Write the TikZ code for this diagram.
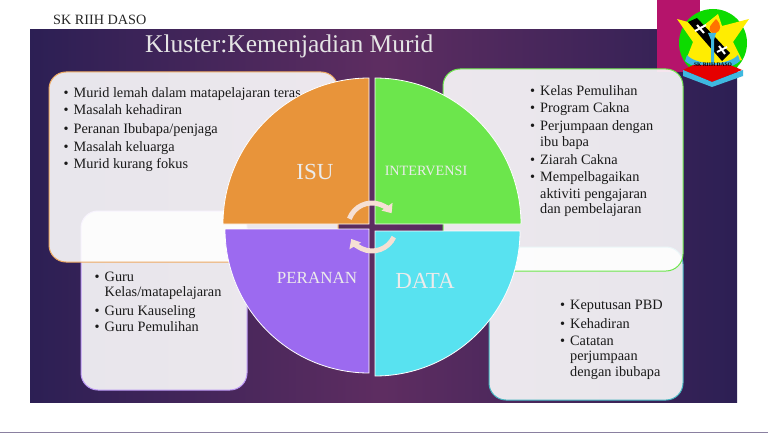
\documentclass[tikz,border=0pt]{standalone}
\usepackage{fontspec}
\setmainfont{Liberation Serif}
\usetikzlibrary{arrows.meta}
\definecolor{slidedark}{HTML}{2C1F54}
\definecolor{slidemid}{HTML}{5E2D61}
\definecolor{isucol}{HTML}{E8943A}
\definecolor{intercol}{HTML}{6CE64C}
\definecolor{perancol}{HTML}{9C6AF0}
\definecolor{datacol}{HTML}{58E2F0}
\definecolor{magentabar}{HTML}{B5146B}
\definecolor{cyclecol}{HTML}{F6E0D4}
\definecolor{footline}{HTML}{8A80A0}
\definecolor{ribboncol}{HTML}{3FB8E0}
\newcommand{\bul}{\llap{•\kern5pt}}
\tikzset{
  listbox/.style={line width=1pt,rounded corners=17pt,fill=white,fill opacity=0.89},
  itemtext/.style={anchor=base west,inner sep=0pt,font=\fontsize{14.3}{14.3}\selectfont,text=black!90},
  quarter/.style={draw=white,line width=0.8pt},
  quartertext/.style={text=white!92!black,inner sep=0pt},
  cyclearrow/.style={draw=cyclecol,line width=5pt,-{Triangle[length=8pt,width=13pt]}}
}
\begin{document}
\begin{tikzpicture}[x=1pt,y=-1pt]
  \useasboundingbox (0,0) rectangle (768,433);
  \fill[white] (0,0) rectangle (768,433);
  \draw[footline,line width=1pt] (0,432.5) -- (768,432.5);
  % slide
  \shade[left color=slidedark,right color=slidedark,middle color=slidemid] (30,30) rectangle (737,402);
  \fill[magentabar] (657,0) rectangle (700,72);
  \node[anchor=base west,inner sep=0pt,font=\fontsize{14.2}{14.2}\selectfont,text=black!85] (school) at (53,25) {SK RIIH DASO};
  \node[anchor=base west,inner sep=0pt,font=\fontsize{25.5}{25.5}\selectfont,text=white!90!black] (title) at (145,53) {Kluster:Kemenjadian Murid};
  % boxes
  \draw[listbox,draw=perancol!70!white] (81,211) rectangle (247,390);
  \draw[listbox,draw=isucol!80!white] (49,72) rectangle (338,262);
  \draw[listbox,draw=datacol!80!black] (489,247) rectangle (683,400);
  \draw[listbox,draw=intercol] (443,69) rectangle (683,271);
  % box texts
  \node[itemtext] (isua) at (73.5,98) {\bul Murid lemah dalam matapelajaran teras};
  \node[itemtext] (isub) at (73.5,115) {\bul Masalah kehadiran};
  \node[itemtext] (isuc) at (73.5,133) {\bul Peranan Ibubapa/penjaga};
  \node[itemtext] (isud) at (73.5,151) {\bul Masalah keluarga};
  \node[itemtext] (isue) at (73.5,168.5) {\bul Murid kurang fokus};
  \node[itemtext] (intera) at (540,95.5) {\bul Kelas Pemulihan};
  \node[itemtext] (interb) at (540,112.5) {\bul Program Cakna};
  \node[itemtext] (interc) at (540,131) {\bul Perjumpaan dengan};
  \node[itemtext] (interd) at (540,146.5) {ibu bapa};
  \node[itemtext] (intere) at (540,164.5) {\bul Ziarah Cakna};
  \node[itemtext] (interf) at (540,181.5) {\bul Mempelbagaikan};
  \node[itemtext] (interg) at (540,198) {aktiviti pengajaran};
  \node[itemtext] (interh) at (540,213.5) {dan pembelajaran};
  \node[itemtext] (perana) at (104.5,281) {\bul Guru};
  \node[itemtext] (peranb) at (104.5,296.5) {Kelas/matapelajaran};
  \node[itemtext] (peranc) at (104.5,315) {\bul Guru Kauseling};
  \node[itemtext] (perand) at (104.5,331.5) {\bul Guru Pemulihan};
  \node[itemtext] (dataa) at (570,309.5) {\bul Keputusan PBD};
  \node[itemtext] (datab) at (570,328) {\bul Kehadiran};
  \node[itemtext] (datac) at (570,345.5) {\bul Catatan};
  \node[itemtext] (datad) at (570,360.5) {perjumpaan};
  \node[itemtext] (datae) at (570,376.5) {dengan ibubapa};
  % quarters
  \fill[quarter,fill=isucol] (369,224) -- (369,78) arc[start angle=90,end angle=180,radius=146pt] -- cycle;
  \fill[quarter,fill=intercol] (375,224) -- (375,78) arc[start angle=90,end angle=0,radius=146pt] -- cycle;
  \fill[quarter,fill=perancol] (369,229) -- (225,229) arc[start angle=180,end angle=270,radius=144pt] -- cycle;
  \fill[quarter,fill=datacol] (375,231) -- (520,231) arc[start angle=0,end angle=-90,radius=145pt] -- cycle;
  \node[quartertext,font=\fontsize{23}{23}\selectfont] (isu) at (315,172) {ISU};
  \node[quartertext,font=\fontsize{14.2}{14.2}\selectfont] (intervensi) at (426,171) {INTERVENSI};
  \node[quartertext,font=\fontsize{17}{17}\selectfont] (peranan) at (317,278) {PERANAN};
  \node[quartertext,font=\fontsize{23}{23}\selectfont] (data) at (425,281) {DATA};
  % cycle arrows
  \draw[cyclearrow] (349.4,218.8) arc[start angle=160,end angle=35,radius=24pt];
  \draw[cyclearrow] (393.8,237.1) arc[start angle=-25,end angle=-150,radius=24pt];
  % logo
  \fill[green!85!black!95!yellow] (713,43) circle (34);
  \fill[yellow!95!orange] (677,19) -- (703,26) -- (718,14) -- (722,26) -- (749,19) -- (733,42) -- (742,60) -- (713,68) -- (686,60) -- (693,42) -- cycle;
  \fill[black] (688,22) -- (697,18) -- (730,53) -- (722,61) -- cycle;
  \draw[white,line width=2pt] (695,31) -- (706,25) (697,25) -- (704,33) (717,52) -- (727,47) (719,46) -- (725,54);
  \fill[orange!90!red] (712,33) .. controls (706,28) and (712,24) .. (716,19) .. controls (722,25) and (721,31) .. (716,33) -- cycle;
  \fill[ribboncol] (708,33) -- (716,33) -- (714,40) -- (714,68) -- (711,68) -- (711,40) -- cycle;
  \fill[ribboncol] (687,55) .. controls (697,66) and (728,66) .. (738,55) -- (740,61) .. controls (728,72) and (697,72) .. (685,61) -- cycle;
  \fill[red!90!black] (683,70) -- (693,65) -- (730,65) -- (742,70) -- (712,82) -- cycle;
  \fill[ribboncol] (683,70) -- (712,82) -- (743,70) -- (743,76) -- (712,87) -- (683,76) -- cycle;
  \node[inner sep=0pt,font=\fontsize{5.5}{5.5}\selectfont\bfseries,text=black] (logotext) at (713,65) {SK RIIH DASO};
\end{tikzpicture}
\end{document}
